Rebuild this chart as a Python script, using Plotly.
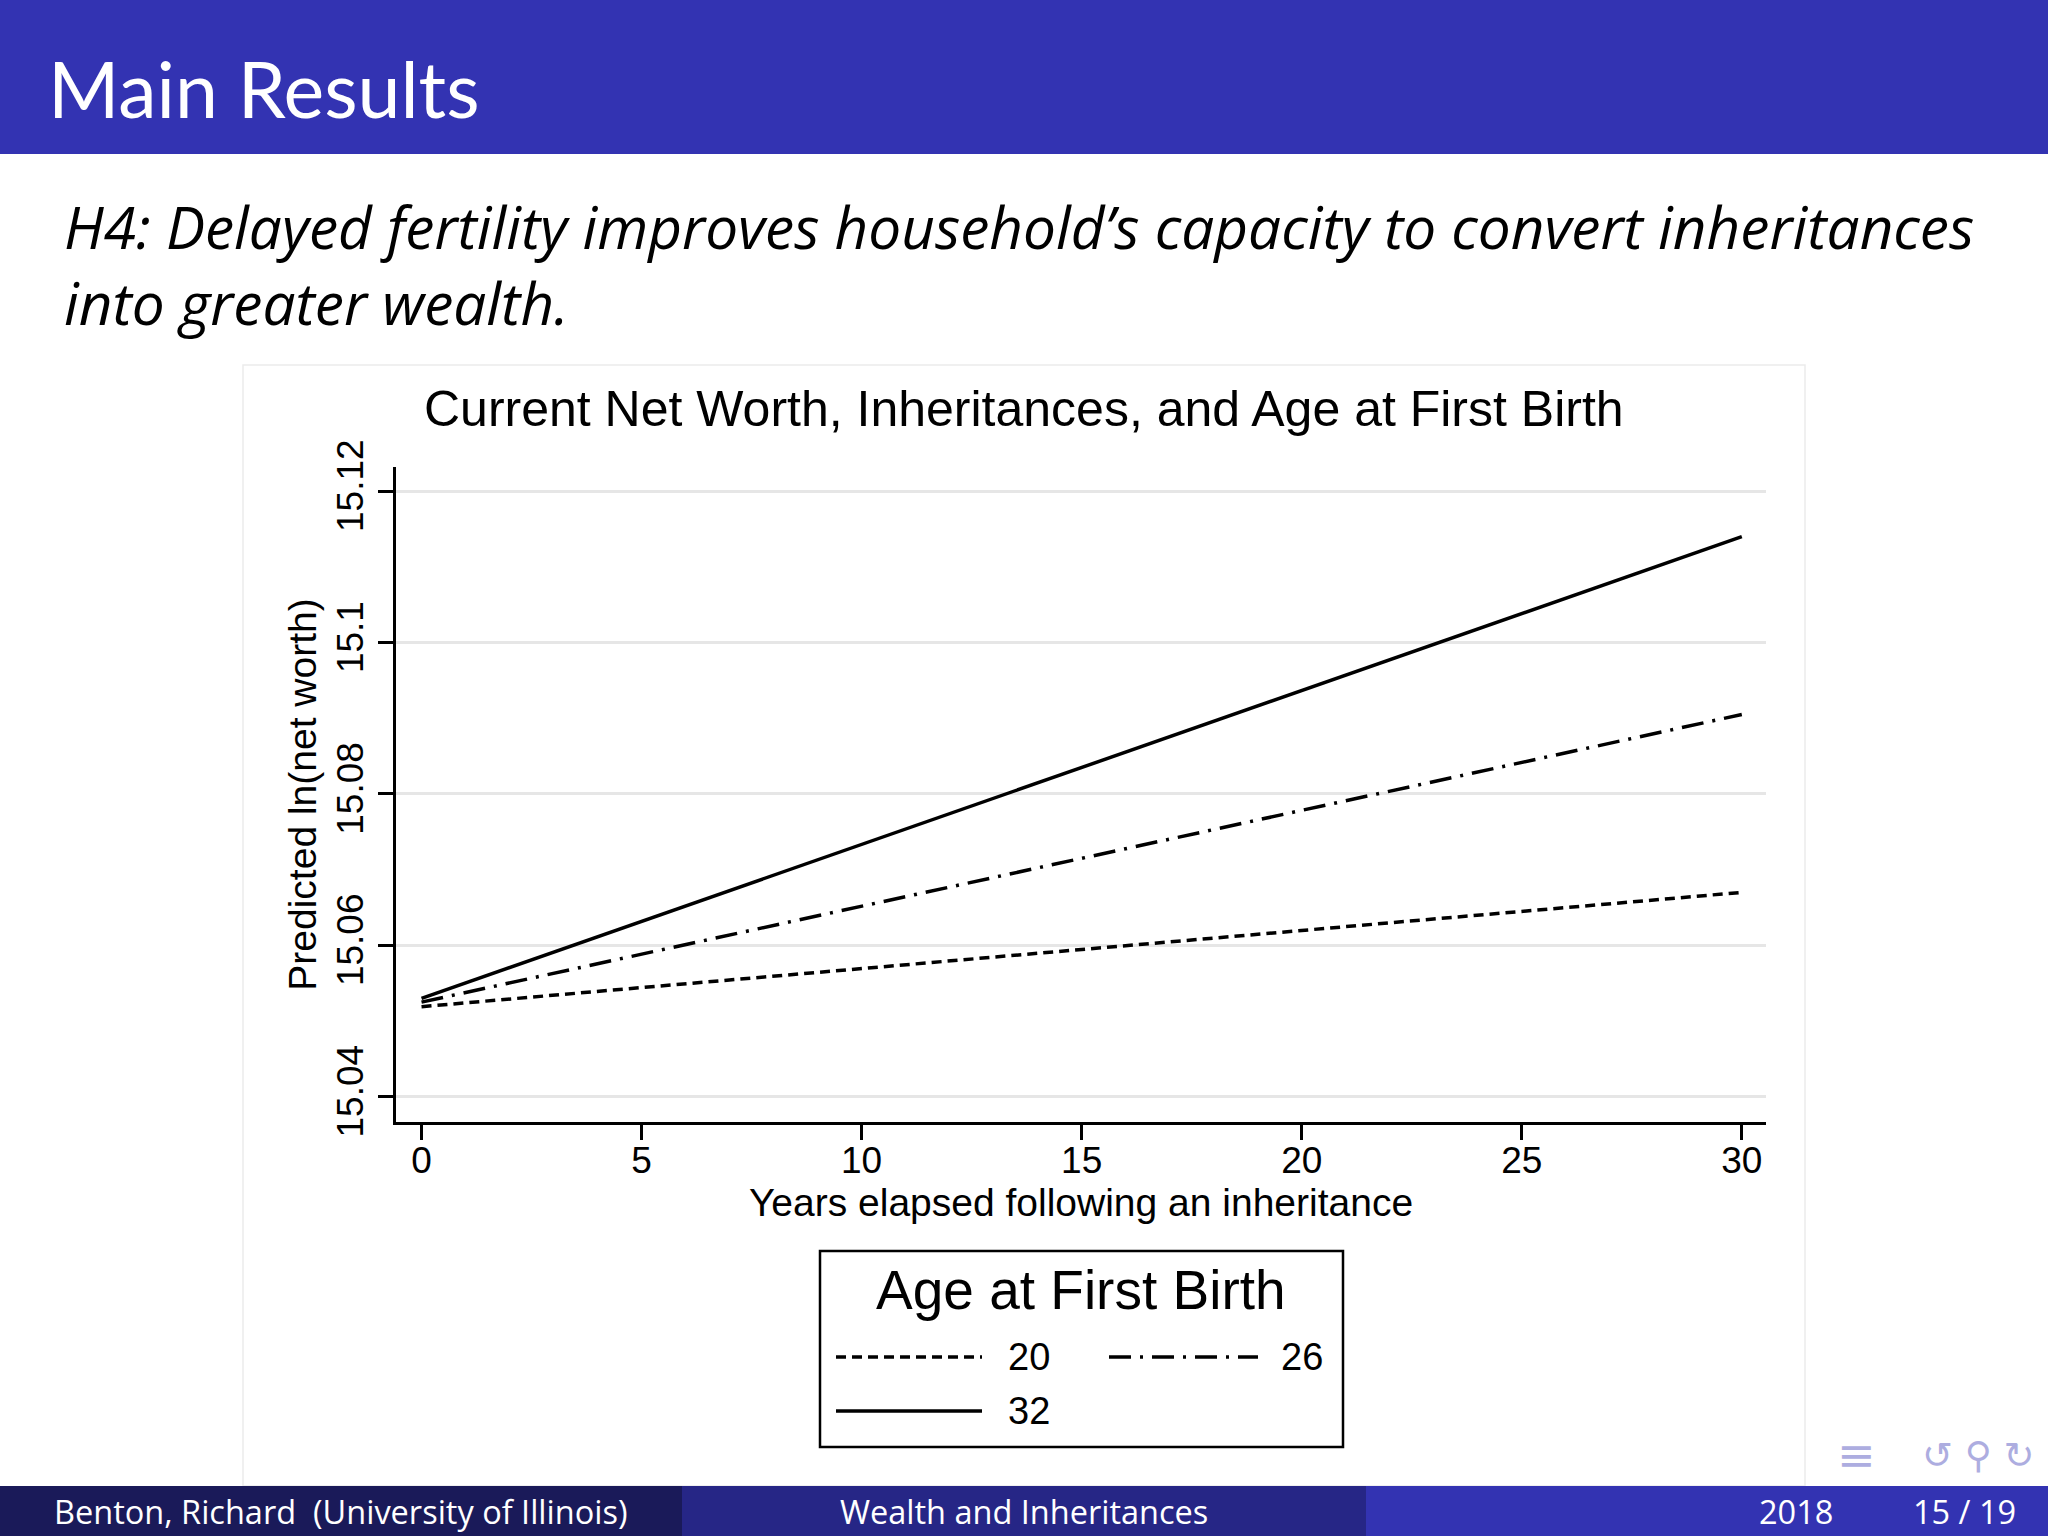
import plotly.graph_objects as go

# ---------------- data ----------------
years = [0, 30]
nw_age20 = [15.0519, 15.0670]
nw_age26 = [15.0525, 15.0905]
nw_age32 = [15.0530, 15.1140]
ages = ["20", "26", "32"]

x_ticks = [0, 5, 10, 15, 20, 25, 30]
y_ticks = [15.04, 15.06, 15.08, 15.10, 15.12]
y_tick_labels = ["15.04", "15.06", "15.08", "15.1", "15.12"]

chart_title = "Current Net Worth, Inheritances, and Age at First Birth"
x_title = "Years elapsed following an inheritance"
y_title = "Predicted ln(net worth)"
legend_title = "Age at First Birth"

slide_title = "Main Results"
hypo_line1 = "H4: Delayed fertility improves household’s capacity to convert inheritances"
hypo_line2 = "into greater wealth."
foot_author = "Benton, Richard  (University of Illinois)"
foot_title = "Wealth and Inheritances"
foot_date = "2018"
foot_page = "15 / 19"

# ---------------- geometry ----------------
WID, HGT = 2048, 1536
L, R, T, B = 396, 1766, 467, 1122
PW, PH = R - L, B - T


def PX(x):
    return (x - L) / PW


def PY(y):
    return (B - y) / PH


CHART_FONT = "Liberation Sans, Arial, sans-serif"
TITLE_FONT = "Lato, Open Sans, sans-serif"
SLIDE_FONT = "Open Sans, Lato, sans-serif"
BLUE = "#3333B2"
BLUE75 = "#262686"
BLUE50 = "#1A1A59"
NAV = "#ADADE0"

styles = {
    "20": dict(color="black", width=3.5, dash="10px,6px"),
    "26": dict(color="black", width=3.5, dash="22px,9px,3px,9px"),
    "32": dict(color="black", width=3.5, dash="solid"),
}

fig = go.Figure()
for age, vals in zip(ages, [nw_age20, nw_age26, nw_age32]):
    fig.add_trace(go.Scatter(x=years, y=vals, mode="lines", name=age,
                             line=styles[age], showlegend=False,
                             hoverinfo="x+y+name"))

shapes = []
annotations = []

# chart image frame
shapes.append(dict(type="rect", xref="paper", yref="paper", layer="below",
                   x0=PX(243), x1=PX(1805), y0=PY(365), y1=PY(1486),
                   line=dict(color="#EBEBEB", width=1.5), fillcolor="rgba(0,0,0,0)"))

# header bar
shapes.append(dict(type="rect", xref="paper", yref="paper", layer="above",
                   x0=PX(0), x1=PX(WID), y0=PY(0), y1=PY(154),
                   line=dict(width=0), fillcolor=BLUE))
# footer bars
for x0, x1, col in [(0, 682, BLUE50), (682, 1366, BLUE75), (1366, WID, BLUE)]:
    shapes.append(dict(type="rect", xref="paper", yref="paper", layer="above",
                       x0=PX(x0), x1=PX(x1), y0=PY(1486), y1=PY(HGT),
                       line=dict(width=0), fillcolor=col))

# legend box
shapes.append(dict(type="rect", xref="paper", yref="paper",
                   x0=PX(820), x1=PX(1343), y0=PY(1251), y1=PY(1447),
                   line=dict(color="black", width=2.5), fillcolor="white"))
leg_pos = {"20": (836, 982, 1006, 1357), "26": (1109, 1258, 1279, 1357),
           "32": (836, 982, 1006, 1411)}
for age in ages:
    sx0, sx1, lx, ly = leg_pos[age]
    st = styles[age]
    shapes.append(dict(type="line", xref="paper", yref="paper",
                       x0=PX(sx0), x1=PX(sx1), y0=PY(ly), y1=PY(ly),
                       line=dict(color=st["color"], width=st["width"], dash=st["dash"])))
    annotations.append(dict(text=age, xref="paper", yref="paper", x=PX(lx), y=PY(ly),
                            xanchor="left", yanchor="middle", showarrow=False,
                            font=dict(family=CHART_FONT, size=38, color="black")))
annotations.append(dict(text=legend_title, xref="paper", yref="paper", x=PX(1081), y=PY(1290),
                        xanchor="center", yanchor="middle", showarrow=False,
                        font=dict(family=CHART_FONT, size=55, color="black")))

# chart title
annotations.append(dict(text=chart_title, xref="paper", yref="paper", x=PX(1024), y=PY(409),
                        xanchor="center", yanchor="middle", showarrow=False,
                        font=dict(family=CHART_FONT, size=50, color="black")))

# slide title & hypothesis
annotations.append(dict(text=slide_title, xref="paper", yref="paper", x=PX(46), y=PY(88),
                        xanchor="left", yanchor="middle", showarrow=False,
                        font=dict(family=TITLE_FONT, size=77, color="white")))
annotations.append(dict(text="<i>" + hypo_line1 + "</i>", xref="paper", yref="paper",
                        x=PX(62), y=PY(226), xanchor="left", yanchor="middle", showarrow=False,
                        font=dict(family=SLIDE_FONT, size=58.5, color="black")))
annotations.append(dict(text="<i>" + hypo_line2 + "</i>", xref="paper", yref="paper",
                        x=PX(62), y=PY(302), xanchor="left", yanchor="middle", showarrow=False,
                        font=dict(family=SLIDE_FONT, size=58.5, color="black")))

# footer text
for txt, x, anchor in [(foot_author, 341, "center"), (foot_title, 1024, "center"),
                       (foot_date, 1796, "center"), (foot_page, 2018, "right")]:
    annotations.append(dict(text=txt, xref="paper", yref="paper", x=PX(x), y=PY(1511),
                            xanchor=anchor, yanchor="middle", showarrow=False,
                            font=dict(family=SLIDE_FONT, size=32.5, color="white")))

# navigation symbols
annotations.append(dict(text="≡", xref="paper", yref="paper", x=PX(1856), y=PY(1455),
                        xanchor="center", yanchor="middle", showarrow=False,
                        font=dict(family="DejaVu Sans", size=46, color=NAV)))
annotations.append(dict(text="↺ ⚲ ↻", xref="paper", yref="paper", x=PX(1978), y=PY(1455),
                        xanchor="center", yanchor="middle", showarrow=False,
                        font=dict(family="DejaVu Sans", size=37, color=NAV)))

fig.update_layout(
    width=WID, height=HGT,
    margin=dict(l=L, r=WID - R, t=T, b=HGT - B, pad=0),
    paper_bgcolor="white", plot_bgcolor="white",
    showlegend=False,
    shapes=shapes, annotations=annotations,
    font=dict(family=CHART_FONT, color="black"),
)
fig.update_xaxes(range=[-0.58, 30.55], tickvals=x_ticks, ticks="outside", ticklen=15,
                 tickwidth=2.5, tickcolor="black", showline=True, linecolor="black",
                 linewidth=2.5, showgrid=False, zeroline=False, automargin=False,
                 ticklabelstandoff=-11,
                 tickfont=dict(family=CHART_FONT, size=37, color="black"),
                 title=dict(text=x_title, standoff=4,
                            font=dict(family=CHART_FONT, size=39, color="black")))
fig.update_yaxes(range=[15.03666, 15.1232], tickvals=y_ticks, ticktext=y_tick_labels,
                 tickangle=-90, ticks="outside", ticklen=15, tickwidth=2.5, tickcolor="black",
                 showline=True, linecolor="black", linewidth=2.5, showgrid=True,
                 gridcolor="#E6E6E6", gridwidth=3, zeroline=False, automargin=False,
                 tickfont=dict(family=CHART_FONT, size=37, color="black"),
                 title=dict(text=y_title, standoff=2,
                            font=dict(family=CHART_FONT, size=39, color="black")))

fig.write_html("out.html")
